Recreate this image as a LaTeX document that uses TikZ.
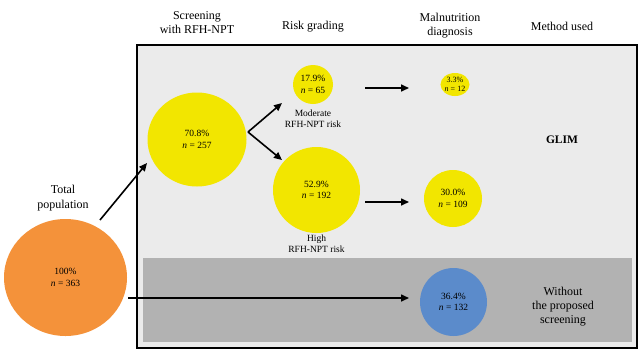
\documentclass[tikz,border=0pt]{standalone}
\usepackage{fontspec}
\setmainfont{Liberation Serif}
\usetikzlibrary{arrows.meta,shapes.geometric}
\definecolor{yel}{HTML}{F2E600}
\definecolor{orng}{HTML}{F4923A}
\definecolor{blu}{HTML}{5B8BCB}
\definecolor{lightbg}{HTML}{EBEBEB}
\definecolor{band}{HTML}{B2B2B2}
\tikzset{
  bubble/.style={ellipse, inner sep=0pt, align=center, font=\fontsize{9.5}{11.5}\selectfont},
  head/.style={align=center, font=\fontsize{12}{14.5}\selectfont},
  lab/.style={align=center, font=\fontsize{9.5}{11.5}\selectfont},
  arr/.style={line width=1.6pt, -{Triangle[length=8pt,width=7pt]}},
}
\begin{document}
\begin{tikzpicture}[x=1pt,y=-1pt]
\useasboundingbox (0,0) rectangle (641,360);
% frame and bands
\fill[lightbg] (137,45) rectangle (637,348);
\fill[band] (143,258) rectangle (632,342);
\draw[line width=1.5pt] (137,45) rectangle (637,348);
% headers
\node[head] (h1) at (197,22.5) {Screening\\with RFH-NPT};
\node[head] (h2) at (313,27) {Risk grading};
\node[head] (h3) at (450,25.5) {Malnutrition\\diagnosis};
\node[head] (h4) at (562,26) {Method used};
% bubbles
\node[bubble, fill=orng, minimum width=123pt, minimum height=117pt] (tot) at (65.5,277.5) {100\%\\\textit{n} = 363};
\node[head] (totl) at (63,198) {Total\\population};
\node[bubble, fill=yel, minimum width=99pt, minimum height=94pt] (scr) at (197,139.5) {70.8\%\\\textit{n} = 257};
\node[bubble, fill=yel, minimum width=40pt, minimum height=39pt] (mod) at (313,84.5) {17.9\%\\\textit{n} = 65};
\node[lab] (modl) at (313,118.5) {Moderate\\RFH-NPT risk};
\node[bubble, fill=yel, minimum width=87pt, minimum height=86pt] (high) at (316.5,190) {52.9\%\\\textit{n} = 192};
\node[lab] (highl) at (316.5,243.5) {High\\RFH-NPT risk};
\node[bubble, fill=yel, minimum width=25pt, minimum height=23pt, font=\fontsize{8}{9}\selectfont] (m1) at (455,84.5) {3.3\%\\\textit{n} = 12};
\node[bubble, fill=yel, minimum width=58pt, minimum height=57pt] (m2) at (453,198.5) {30.0\%\\\textit{n} = 109};
\node[bubble, fill=blu, minimum width=67pt, minimum height=68pt] (m3) at (453.5,302) {36.4\%\\\textit{n} = 132};
\node[font=\bfseries\fontsize{11.5}{13}\selectfont] (glim) at (562,140) {GLIM};
\node[head, font=\fontsize{12}{14}\selectfont] (wo) at (563,307) {Without\\the proposed\\screening};
% connectors
\coordinate (s0) at (100,220);
\coordinate (t0) at (147,163);
\coordinate (fork) at (248,132);
\coordinate (tmod) at (282,103);
\coordinate (thigh) at (282,160);
\coordinate (a1s) at (365,88);
\coordinate (a1e) at (409,88);
\coordinate (a2s) at (365,202);
\coordinate (a2e) at (409,202);
\coordinate (hs) at (128,298);
\coordinate (he) at (409,298);
\draw[arr] (s0) -- (t0);
\draw[arr] (fork) -- (tmod);
\draw[arr] (fork) -- (thigh);
\draw[arr] (a1s) -- (a1e);
\draw[arr] (a2s) -- (a2e);
\draw[arr] (hs) -- (he);
\end{tikzpicture}
\end{document}
